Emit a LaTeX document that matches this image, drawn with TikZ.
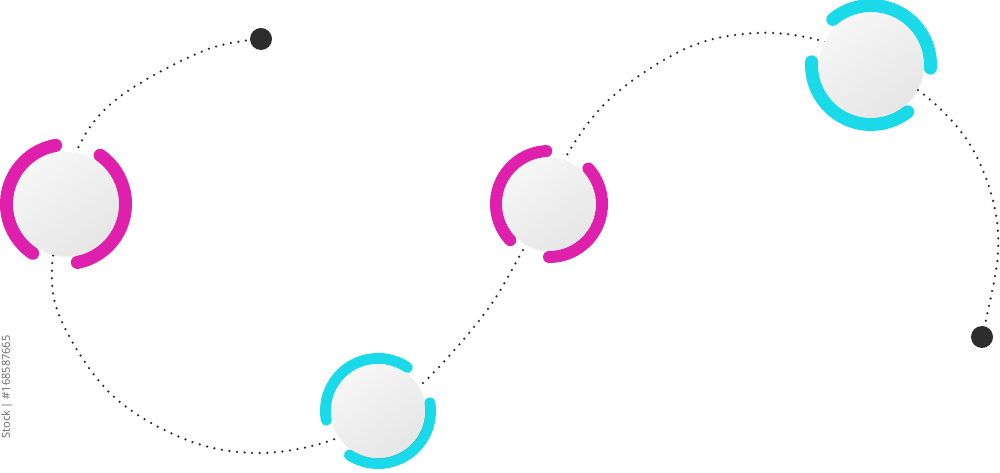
\documentclass[tikz,border=0pt]{standalone}
\usepackage{fontspec}
\newfontfamily\wmfont{Open Sans}
\usetikzlibrary{shadows}
\definecolor{magring}{RGB}{222,32,172}
\definecolor{cyanring}{RGB}{26,218,234}
\definecolor{dotcol}{RGB}{45,45,45}
\definecolor{disctop}{RGB}{246,246,246}
\definecolor{discbot}{RGB}{230,230,231}
\pgfdeclarelayer{bg}
\pgfdeclarelayer{mid}
\pgfsetlayers{bg,mid,main}
\begin{document}
\begin{tikzpicture}[x=1pt,y=1pt,
  disc/.style={circle, inner sep=0pt, draw=none, top color=disctop, bottom color=discbot, shading angle=35,
    drop shadow={opacity=0.12, shadow xshift=1.2pt, shadow yshift=-1.2pt}},
  ringarc/.style={line width=#1, line cap=round},
  ringarc/.default=13pt,
  enddot/.style={circle, fill=dotcol, inner sep=0pt, minimum size=22pt},
  trail/.style={dotcol, line width=2.5pt, line cap=round, dash pattern=on 0pt off 7.6pt},
  wm/.style={rotate=90, font=\wmfont\fontsize{11}{11}\selectfont, text=black!60, inner sep=0pt}]
\begin{pgfonlayer}{bg}
  \fill[white] (0,0) rectangle (1000,473);
\end{pgfonlayer}
\useasboundingbox (0,0) rectangle (1000,473);

% discs
\node[disc, minimum size=104pt] (c1) at (66,269) {};
\node[disc, minimum size=94pt]  (c2) at (378,62) {};
\node[disc, minimum size=93pt]  (c3) at (549,269) {};
\node[disc, minimum size=104pt] (c4) at (871,408) {};

% end dots
\node[enddot] (d1) at (261,434) {};
\node[enddot] (d2) at (982,136) {};

\begin{pgfonlayer}{mid}
  % dotted trail
  \draw[trail] plot[smooth, tension=0.6] coordinates {(d1.center) (203,422) (118,375) (78,325) (c1.center)};
  \draw[trail] plot[smooth, tension=0.6] coordinates {(c1.center) (52,207) (62,151) (112,78) (187,33) (260,20) (332,33) (c2.center)};
  \draw[trail] plot[smooth, tension=0.6] coordinates {(c2.center) (421,88) (485,160) (523,223) (c3.center)};
  \draw[trail] plot[smooth, tension=0.6] coordinates {(c3.center) (567,318) (612,376) (687,425) (757,440) (822,432) (c4.center)};
  \draw[trail] plot[smooth, tension=0.6] coordinates {(c4.center) (922,380) (967,333) (992,276) (998,220) (986,153) (d2.center)};

  % rings
  \draw[ringarc=13pt, magring] (c1.center) ++(100:59.5pt) arc[start angle=100, end angle=236, radius=59.5pt];
  \draw[ringarc=13pt, magring] (c1.center) ++(281:59.5pt) arc[start angle=281, end angle=415, radius=59.5pt];

  \draw[ringarc=11pt, cyanring] (c2.center) ++(56:52.5pt) arc[start angle=56, end angle=190, radius=52.5pt];
  \draw[ringarc=11pt, cyanring] (c2.center) ++(237:52.5pt) arc[start angle=237, end angle=369, radius=52.5pt];

  \draw[ringarc=12pt, magring] (c3.center) ++(93:53pt) arc[start angle=93, end angle=223, radius=53pt];
  \draw[ringarc=12pt, magring] (c3.center) ++(270:53pt) arc[start angle=270, end angle=402, radius=53pt];

  \draw[ringarc=13pt, cyanring] (c4.center) ++(-3:59.5pt) arc[start angle=-3, end angle=130, radius=59.5pt];
  \draw[ringarc=13pt, cyanring] (c4.center) ++(177:59.5pt) arc[start angle=177, end angle=308, radius=59.5pt];
\end{pgfonlayer}

% edge text
\node[wm] (wmtext) at (7,86) {Stock | \#168587665};
\end{tikzpicture}
\end{document}
